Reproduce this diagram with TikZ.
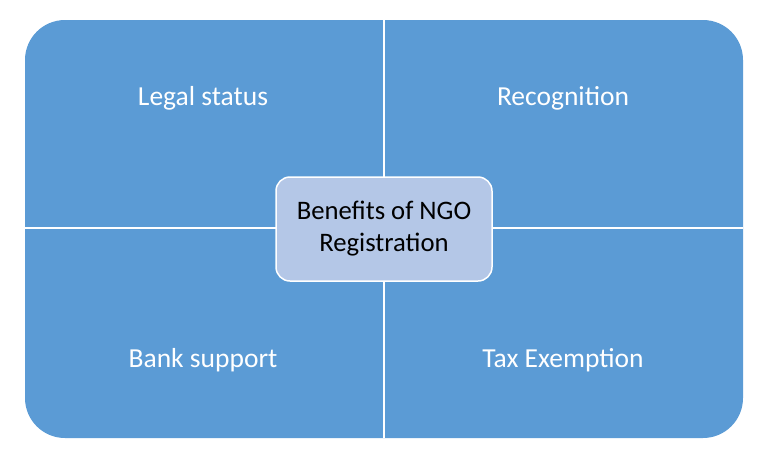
\documentclass[tikz,border=0pt]{standalone}
\usepackage{fontspec}
\setmainfont{Carlito}
\definecolor{quad}{HTML}{5B9BD5}
\definecolor{center}{HTML}{B4C7E7}
\begin{document}
\begin{tikzpicture}[x=1pt,y=-1pt,
  lbl/.style={text=white,font=\fontsize{27.5}{32}\selectfont},
  ctr/.style={draw=white,line width=1.5pt,fill=center,rounded corners=14pt,minimum width=216pt,minimum height=104pt,align=center,font=\fontsize{26.7}{32}\selectfont}]
\useasboundingbox (0,0) rectangle (771,459);
\fill[quad,rounded corners=40pt] (25,20) rectangle (743,438);
\draw[white,line width=1.5pt] (384,20) -- (384,438);
\draw[white,line width=1.5pt] (25,228) -- (743,228);
\node[lbl] (ls) at (203,98) {Legal status};
\node[lbl] (rc) at (563,98) {Recognition};
\node[lbl] (bs) at (203,360) {Bank support};
\node[lbl] (te) at (563,360) {Tax Exemption};
\node[ctr] (c) at (384,229) {Benefits of NGO\\Registration};
\end{tikzpicture}
\end{document}
